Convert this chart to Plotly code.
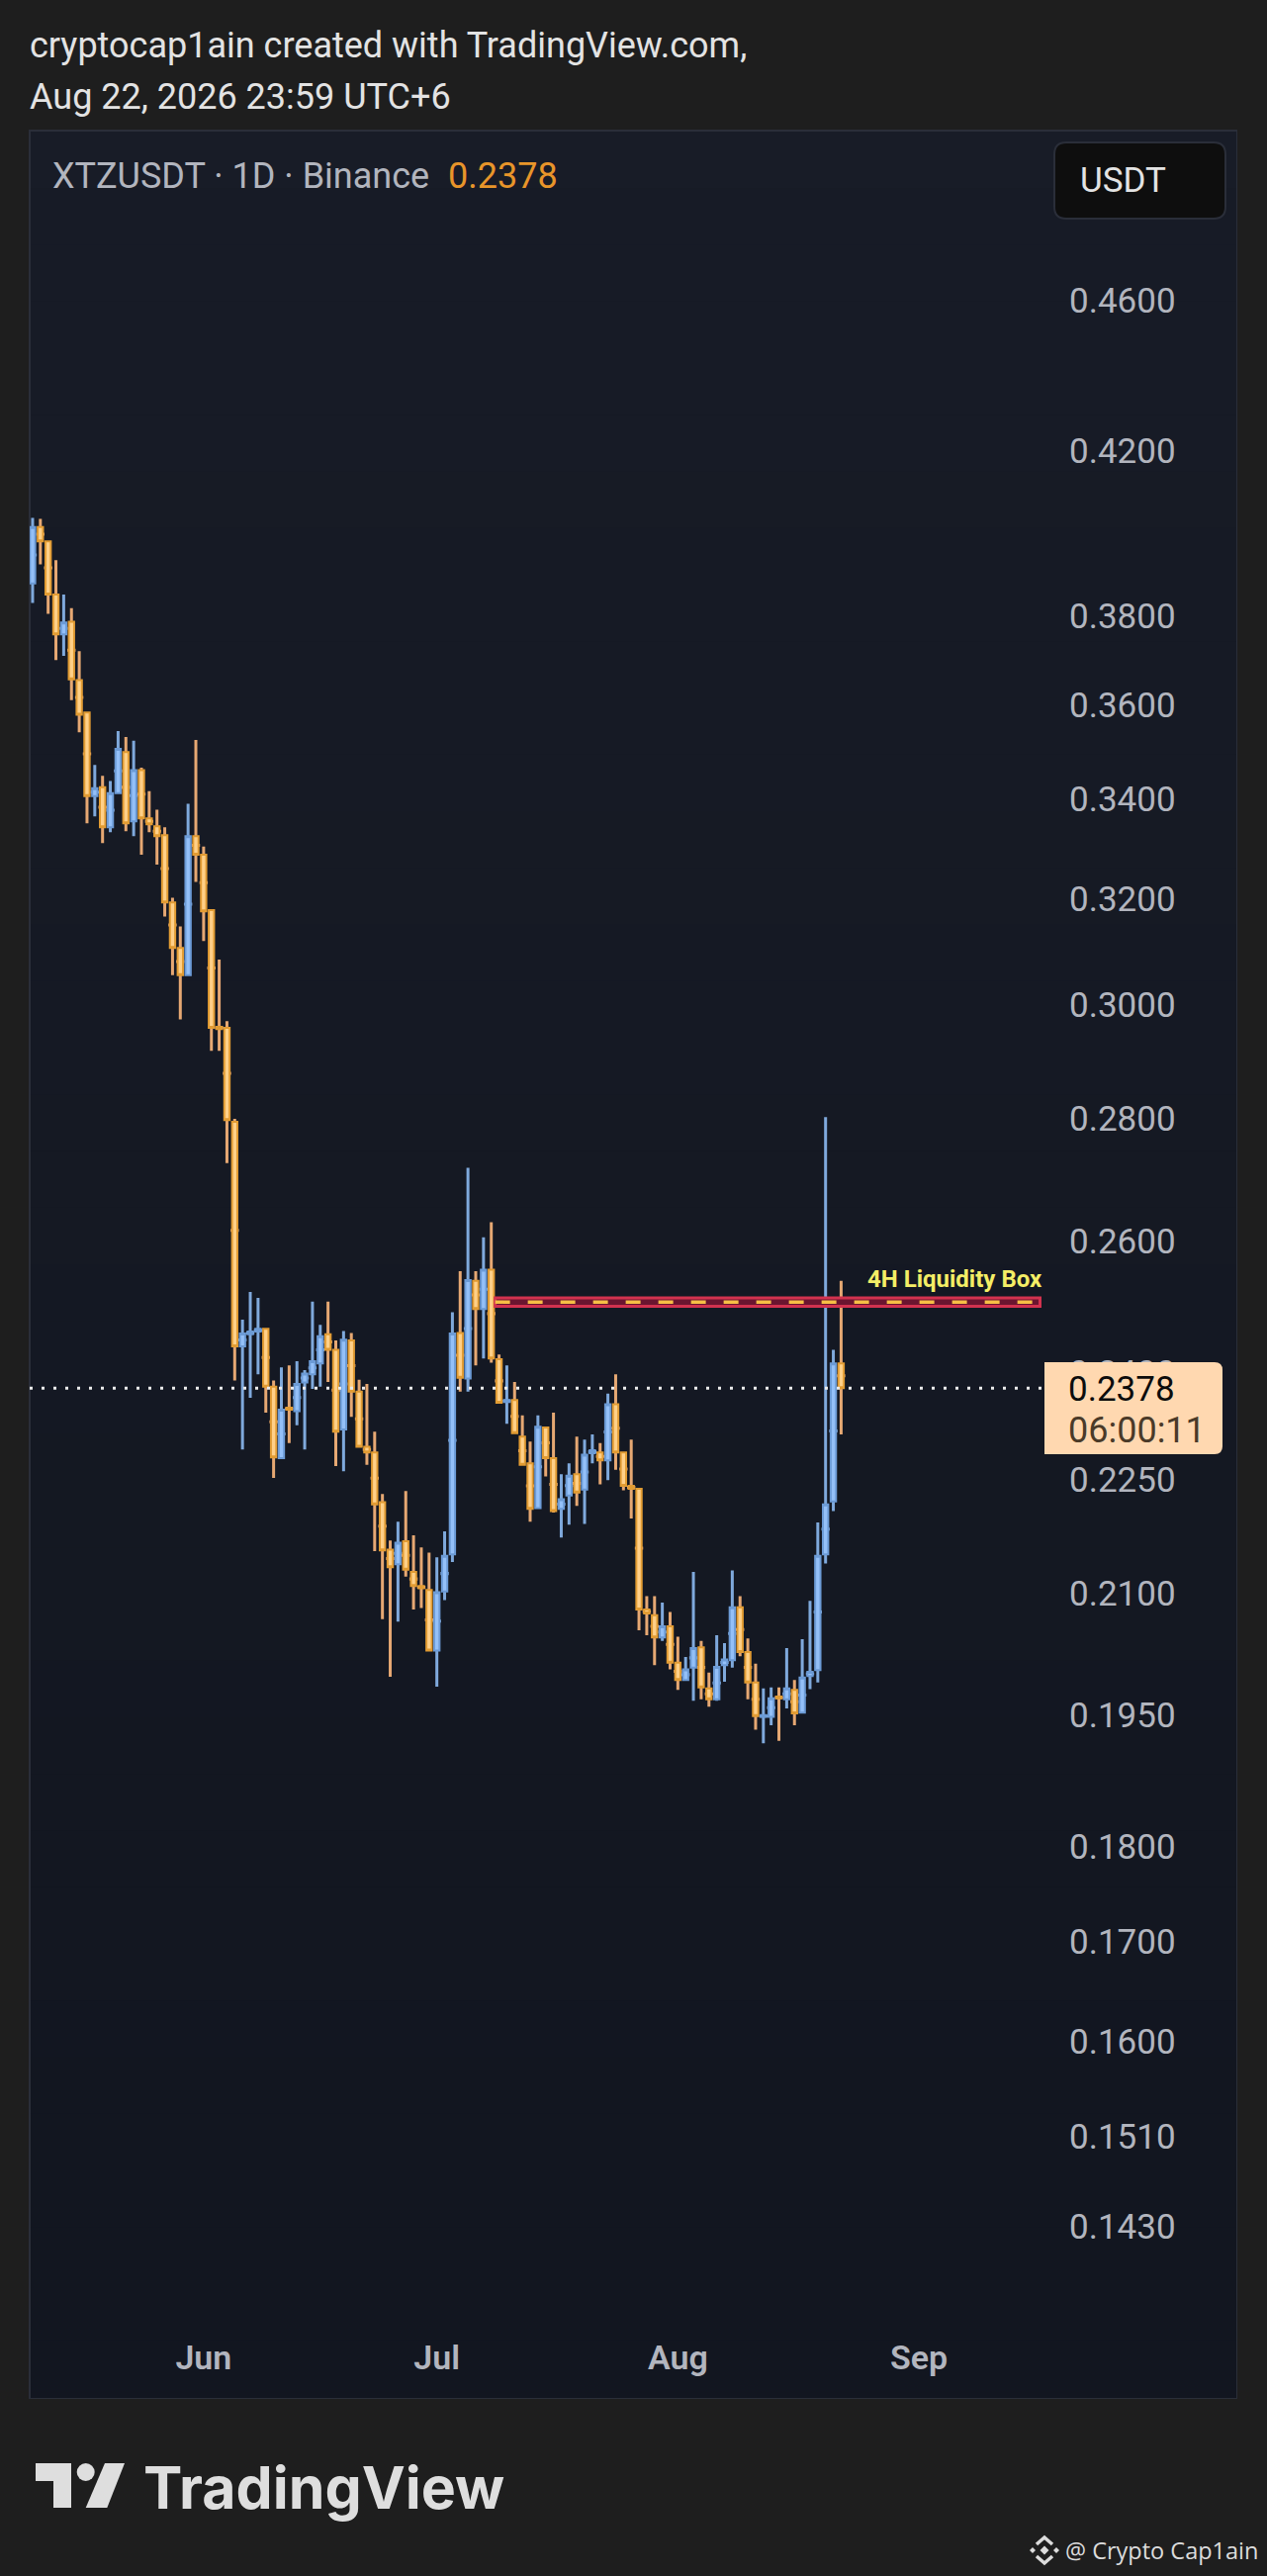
import numpy as np
import pandas as pd
import plotly.graph_objects as go

# daily XTZUSDT candles, May 10 to Aug 22
start_date = "2026-05-10"
opens = [.3875,.4010,.3975,.3849,.3757,.3786,.3654,.3583,.3406,.3424,.3342,.3412,.3498,.3354,.3460,.3360,.3344,.3326,.3193,.3106,.3055,.3324,.3287,.3178,.2961,
         .2959,.2795,.2439,.2457,.2461,.2465,.2380,.2279,.2350,.2345,.2386,.2398,.2414,.2457,.2434,.2319,.2448,.2373,.2295,.2287,.2219,.2156,.2137,.2167,.2127,
         .2109,.2104,.2028,.2102,.2150,.2459,.2392,.2538,.2495,.2555,.2420,.2358,.2361,.2309,.2272,.2211,.2322,.2279,.2210,.2228,.2257,.2236,.2286,.2287,.2276,
         .2355,.2287,.2241,.2237,.2079,.2072,.2044,.2058,.2013,.1992,.2007,.2032,.1982,.1969,.2010,.2016,.2082,.2026,.1989,.1948,.1948,.1972,.1969,.1980,.1953,
         .1997,.2004,.2150,.2220,.2414]
highs = [.4032,.4030,.3975,.3930,.3849,.3817,.3719,.3583,.3471,.3448,.3437,.3543,.3530,.3522,.3465,.3416,.3378,.3342,.3202,.3147,.3390,.3524,.3303,.3178,.3084,
         .2971,.2800,.2479,.2521,.2512,.2465,.2389,.2408,.2411,.2417,.2404,.2506,.2471,.2506,.2448,.2462,.2459,.2390,.2384,.2316,.2230,.2168,.2193,.2234,.2175,
         .2159,.2152,.2146,.2180,.2490,.2553,.2718,.2553,.2606,.2630,.2427,.2411,.2387,.2339,.2302,.2339,.2322,.2343,.2257,.2272,.2309,.2305,.2312,.2300,.2370,
         .2398,.2287,.2305,.2237,.2096,.2096,.2088,.2076,.2045,.2020,.2127,.2040,.2001,.2047,.2037,.2129,.2096,.2043,.2012,.1982,.1983,.1983,.2031,.1992,.2042,
         .2090,.2192,.2803,.2434,.2538]
lows = [.3829,.3920,.3804,.3699,.3708,.3610,.3540,.3350,.3364,.3310,.3332,.3412,.3334,.3324,.3287,.3332,.3267,.3166,.3055,.2974,.3055,.3233,.3119,.2918,.2918,
        .2726,.2389,.2291,.2364,.2398,.2343,.2252,.2279,.2300,.2325,.2291,.2377,.2380,.2387,.2268,.2261,.2337,.2295,.2270,.2154,.2067,.1996,.2064,.2121,.2079,
        .2081,.2028,.1984,.2091,.2140,.2373,.2373,.2411,.2421,.2415,.2357,.2327,.2314,.2270,.2193,.2211,.2254,.2205,.2172,.2189,.2214,.2190,.2272,.2243,.2249,
        .2263,.2235,.2197,.2053,.2047,.2010,.2040,.2005,.1980,.1992,.1967,.1969,.1960,.1967,.1990,.2007,.2021,.1969,.1933,.1917,.1938,.1920,.1958,.1938,.1953,
        .1981,.1989,.2138,.2207,.2312]
closes = [.4010,.3975,.3849,.3757,.3784,.3656,.3578,.3406,.3422,.3342,.3412,.3505,.3350,.3460,.3360,.3348,.3324,.3193,.3106,.3055,.3324,.3287,.3176,.2959,.2957,
          .2798,.2439,.2458,.2461,.2465,.2380,.2280,.2347,.2347,.2384,.2399,.2417,.2454,.2434,.2316,.2449,.2373,.2295,.2287,.2216,.2155,.2133,.2165,.2130,.2109,
          .2106,.2028,.2101,.2148,.2458,.2393,.2539,.2495,.2555,.2421,.2357,.2361,.2314,.2270,.2210,.2323,.2279,.2207,.2223,.2255,.2232,.2284,.2290,.2276,.2355,
          .2287,.2241,.2237,.2079,.2074,.2044,.2058,.2013,.1992,.2005,.2031,.1983,.1969,.2008,.2017,.2082,.2026,.1989,.1949,.1950,.1970,.1970,.1982,.1952,.1995,
          .2002,.2148,.2216,.2414,.2378]

price_ticks = [.46,.42,.38,.36,.34,.32,.30,.28,.26,.24,.225,.21,.195,.18,.17,.16,.151,.143]
price_labels = ["0.4600","0.4200","0.3800","0.3600","0.3400","0.3200","0.3000","0.2800","0.2600","0.2400",
                "0.2250","0.2100","0.1950","0.1800","0.1700","0.1600","0.1510","0.1430"]
month_ticks = ["2026-06-01","2026-07-01","2026-08-01","2026-09-01"]
month_labels = ["Jun","Jul","Aug","Sep"]

last_price = 0.2378
box_low = 0.2499
box_high = 0.2512
box_start = "2026-07-08 12:00"
box_end = "2026-09-16 14:00"

# page geometry, everything else is placed in pixels against this
W, H = 1281, 2604
L, R, T, B = 30, 1080, 132, 2360

def px(x):
    return (x - L) / (R - L)

def py(y):
    return 1 - (y - T) / (B - T)

def pad_path(points, close=True):
    path = "M " + " L ".join(f"{px(a):.5f},{py(b):.5f}" for a, b in points)
    return path + (" Z" if close else "")

def page_text(x, y, text, size, color, anchor="left", weight=400, family="Roboto"):
    fig.add_annotation(xref="paper", yref="paper", x=px(x), y=py(y), text=text, showarrow=False,
                       xanchor=anchor, yanchor="middle", font=dict(size=size, color=color, family=family, weight=weight))

def page_rect(x0, y0, x1, y1, fill, line=None, width=0, layer="below"):
    fig.add_shape(type="rect", xref="paper", yref="paper", x0=px(x0), y0=py(y0), x1=px(x1), y1=py(y1),
                  fillcolor=fill, line=dict(color=line, width=width), layer=layer)

dates = pd.date_range(start_date, periods=len(opens))
opens_a, closes_a = np.array(opens), np.array(closes)
mid = (opens_a + closes_a) / 2
sign = np.sign(closes_a - opens_a)

fig = go.Figure()

# wicks go first so the bodies sit on top, the wick trace only keeps the direction
fig.add_trace(go.Candlestick(x=dates, open=mid - sign * 1e-6, close=mid + sign * 1e-6, high=highs, low=lows,
                             increasing=dict(line=dict(color="#7fa9dc", width=3), fillcolor="#7fa9dc"),
                             decreasing=dict(line=dict(color="#e6a873", width=3), fillcolor="#e6a873"),
                             showlegend=False, hoverinfo="skip"))
fig.add_trace(go.Candlestick(x=dates, open=opens, close=closes,
                             high=np.maximum(opens_a, closes_a), low=np.minimum(opens_a, closes_a),
                             increasing=dict(line=dict(color="#6c9bd6", width=2), fillcolor="#94c0f8"),
                             decreasing=dict(line=dict(color="#e29c33", width=2), fillcolor="#ffd088"),
                             showlegend=False, hoverinfo="skip"))

fig.update_layout(width=W, height=H, autosize=False, margin=dict(l=L, r=W - R, t=T, b=H - B, pad=0),
                  paper_bgcolor="#1e1e1e", plot_bgcolor="rgba(0,0,0,0)", boxgap=0.02, showlegend=False,
                  font=dict(family="Roboto"))
fig.update_xaxes(type="date", range=[pd.Timestamp(start_date) - pd.Timedelta(hours=9), "2026-09-20 05:00"],
                 rangeslider=dict(visible=False), showgrid=False, zeroline=False, showline=False, ticks="",
                 tickmode="array", tickvals=month_ticks, ticktext=month_labels,
                 tickfont=dict(size=34, color="#b2b5be", family="Roboto", weight=600))
fig.update_yaxes(type="log", range=[-0.8732, -0.29241], side="right", showgrid=False, zeroline=False, showline=False,
                 ticks="", tickmode="array", tickvals=price_ticks, ticktext=price_labels,
                 tickfont=dict(size=35, color="#b2b5be", family="Roboto"))

# panel behind the chart, slightly lighter at the top
page_rect(29, 131, 1251, 2425, "#2a2e39")
strips = 40
for i in range(strips):
    t = i / (strips - 1)
    shade = (int(24 - 6 * t), int(28 - 6 * t), int(39 - 7 * t))
    page_rect(31, 133 + i * 2290 / strips, 1250, 133 + (i + 1) * 2290 / strips + 1, "rgb(%d,%d,%d)" % shade)

# 4H liquidity box
fig.add_shape(type="rect", xref="x", yref="y", x0=box_start, x1=box_end, y0=box_low, y1=box_high,
              fillcolor="#6b1530", line=dict(color="#d2324f", width=3), layer="above")
fig.add_shape(type="line", xref="x", yref="y", x0=box_start, x1=box_end, y0=(box_low + box_high) / 2, y1=(box_low + box_high) / 2,
              line=dict(color="#f7bf45", width=3.5, dash="15px,18px"), layer="above")
page_text(1056, 1293, "4H Liquidity Box", 24, "#f4ee66", anchor="right", weight=700)

# last price line and tag
fig.add_shape(type="line", xref="paper", yref="y", x0=px(30), x1=px(1053), y0=last_price, y1=last_price,
              line=dict(color="#ececec", width=3, dash="3px,9px"), layer="above")
r = 8
fig.add_shape(type="path", xref="paper", yref="paper", fillcolor="#ffd8b0", line=dict(width=0), layer="above",
              path=f"M {px(1056):.5f},{py(1377):.5f} L {px(1236 - r):.5f},{py(1377):.5f} "
                   f"Q {px(1236):.5f},{py(1377):.5f} {px(1236):.5f},{py(1377 + r):.5f} "
                   f"L {px(1236):.5f},{py(1470 - r):.5f} Q {px(1236):.5f},{py(1470):.5f} {px(1236 - r):.5f},{py(1470):.5f} "
                   f"L {px(1056):.5f},{py(1470):.5f} Z")
page_text(1078, 1404, "0.2378", 35, "#0c0c0c")
page_text(1078, 1446, "06:00:11", 36, "#4a3a28")

# header
page_text(28, 46, "cryptocap1ain created with TradingView.com,", 36, "#e3e3e3")
page_text(28, 98, "Aug 22, 2026 23:59 UTC+6", 36, "#e3e3e3")
page_text(51, 178, "XTZUSDT · 1D · Binance", 36, "#b2b5be")
page_text(451, 178, "0.2378", 36, "#e8952a")

# currency button
x0, y0, x1, y1, r = 1066, 144, 1239, 221, 12
fig.add_shape(type="path", xref="paper", yref="paper", fillcolor="#0e0e0e", line=dict(color="#2a2e39", width=2), layer="above",
              path=f"M {px(x0 + r):.5f},{py(y0):.5f} L {px(x1 - r):.5f},{py(y0):.5f} Q {px(x1):.5f},{py(y0):.5f} {px(x1):.5f},{py(y0 + r):.5f} "
                   f"L {px(x1):.5f},{py(y1 - r):.5f} Q {px(x1):.5f},{py(y1):.5f} {px(x1 - r):.5f},{py(y1):.5f} "
                   f"L {px(x0 + r):.5f},{py(y1):.5f} Q {px(x0):.5f},{py(y1):.5f} {px(x0):.5f},{py(y1 - r):.5f} "
                   f"L {px(x0):.5f},{py(y0 + r):.5f} Q {px(x0):.5f},{py(y0):.5f} {px(x0 + r):.5f},{py(y0):.5f} Z")
page_text(1090, 182, "USDT", 35, "#e3e3e3")

# TradingView logo
logo = "#dedede"
for shape_points in ([(36, 2490), (72, 2490), (72, 2535), (54, 2535), (54, 2508), (36, 2508)],
                     [(106, 2490), (126, 2490), (108.3, 2535), (86.7, 2535)]):
    fig.add_shape(type="path", xref="paper", yref="paper", path=pad_path(shape_points), fillcolor=logo, line=dict(width=0), layer="above")
fig.add_shape(type="circle", xref="paper", yref="paper", x0=px(77.7), x1=px(95.7), y0=py(2490), y1=py(2508), fillcolor=logo, line=dict(width=0), layer="above")
page_text(143, 2514, "TradingView", 59, logo, weight=700, family="Inter")

# credit with the small diamond mark
cx, cy = 1056, 2578
mark = "#dcdcdc"
for dx, dy, s in [(0, 0, 4.5), (-12, 0, 3), (12, 0, 3)]:
    fig.add_shape(type="path", xref="paper", yref="paper", fillcolor=mark, line=dict(width=0), layer="above",
                  path=pad_path([(cx + dx, cy + dy - s), (cx + dx + s, cy + dy), (cx + dx, cy + dy + s), (cx + dx - s, cy + dy)]))
for d in (-1, 1):
    fig.add_shape(type="path", xref="paper", yref="paper", fillcolor="rgba(0,0,0,0)", line=dict(color=mark, width=3.5), layer="above",
                  path=pad_path([(cx - 8, cy + d * 6), (cx, cy + d * 13), (cx + 8, cy + d * 6)], close=False))
page_text(1075, 2578, "@ Crypto Cap1ain", 23.5, mark, family="Open Sans")

# browsers put a margin round the body, drop it so the figure fills the page
fig.write_html("out.html", post_script="document.body.style.margin='0';", config={"displayModeBar": False})
